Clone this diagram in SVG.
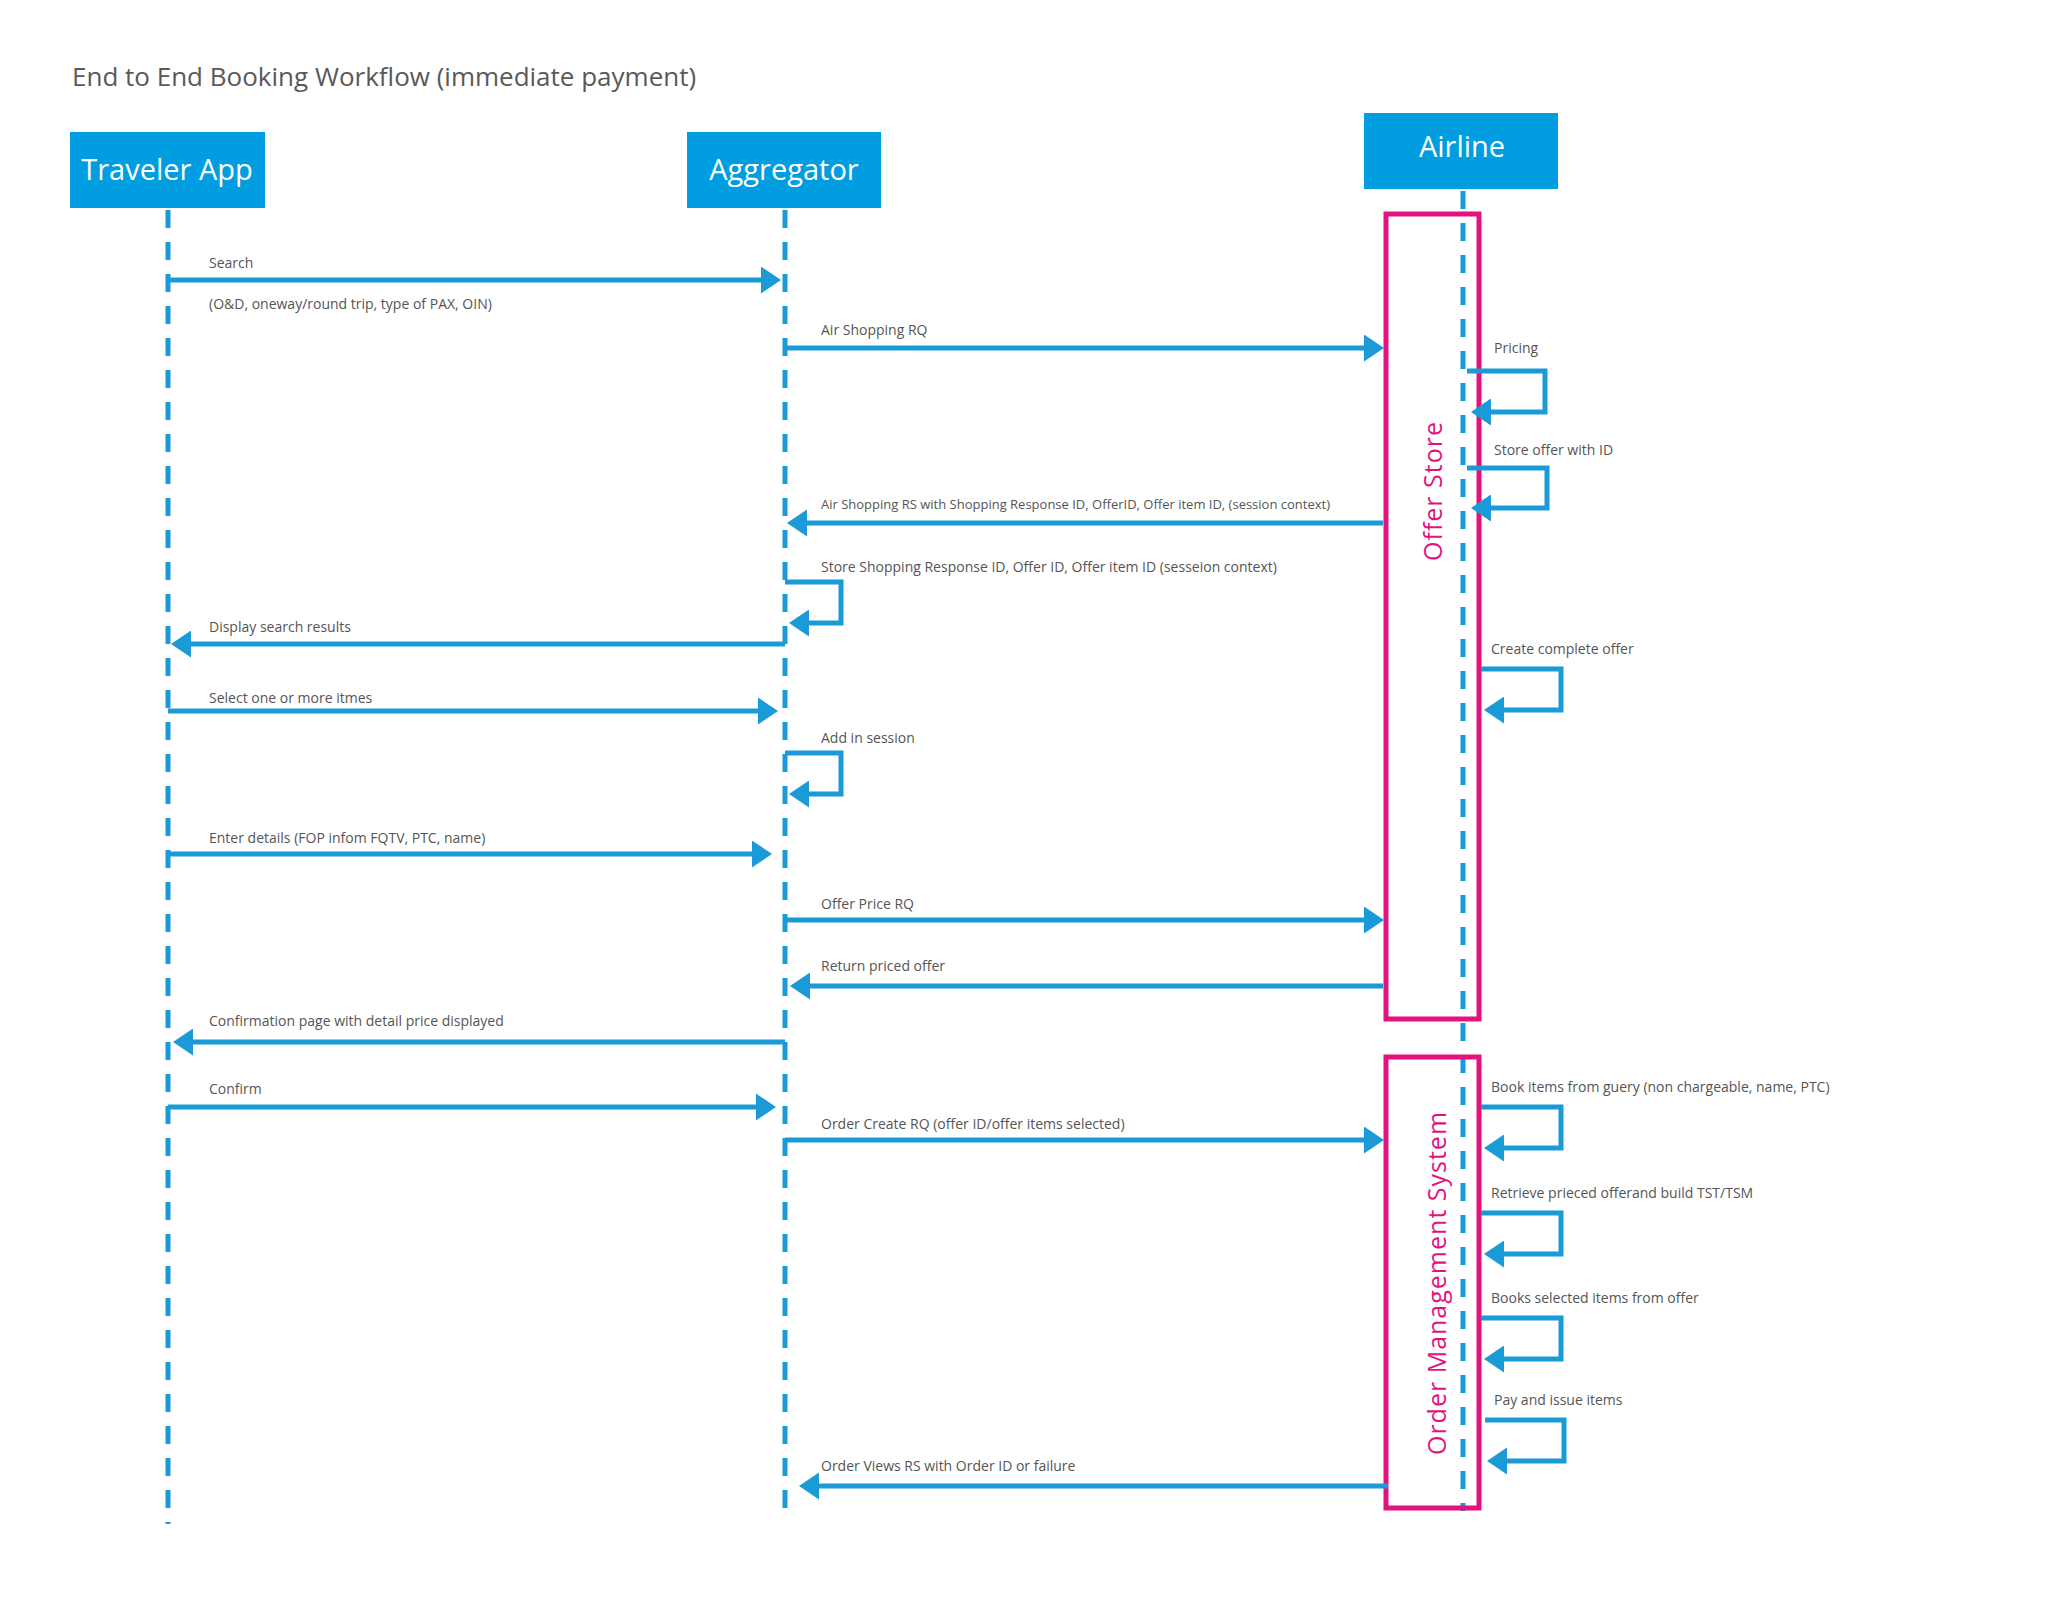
<svg xmlns="http://www.w3.org/2000/svg" width="2048" height="1616" viewBox="0 0 2048 1616">
<style>
.box{fill:#009EE0}
.bt{font-family:"Open Sans","Liberation Sans",sans-serif;font-size:29px;fill:#fff;text-anchor:middle}
.life{stroke:#1A9AD6;stroke-width:5;stroke-dasharray:18 14;fill:none}
.act{fill:none;stroke:#E2137F;stroke-width:5}
.vt{font-family:"Open Sans","Liberation Sans",sans-serif;font-size:25px;fill:#E2137F;text-anchor:middle;letter-spacing:1px}
.msg{stroke:#1A9AD6;stroke-width:5;fill:none;marker-end:url(#ah)}
.lb{font-family:"Open Sans","Liberation Sans",sans-serif;font-size:14px;fill:#555}
.sm{font-size:13px}
</style>
<defs>
<marker id="ah" viewBox="0 0 4 5.4" refX="3" refY="2.7" markerWidth="4" markerHeight="5.4" orient="auto" markerUnits="strokeWidth">
<path d="M0,0 L4,2.7 L0,5.4 Z" fill="#1A9AD6"/>
</marker>
</defs>
<rect width="2048" height="1616" fill="#fff"/>
<text x="72" y="86" font-family="'Open Sans','Liberation Sans',sans-serif" font-size="26" fill="#595959">End to End Booking Workflow (immediate payment)</text>

<g id="traveler"><rect class="box" x="70" y="132" width="195" height="76"/><text class="bt" x="167" y="180">Traveler App</text><line class="life" x1="168" y1="210" x2="168" y2="1524"/></g>
<g id="aggregator"><rect class="box" x="687" y="132" width="194" height="76"/><text class="bt" x="784" y="180">Aggregator</text><line class="life" x1="785" y1="210" x2="785" y2="1508"/></g>
<g id="airline"><rect class="box" x="1364" y="113" width="194" height="76"/><text class="bt" x="1462" y="157">Airline</text><line class="life" x1="1463" y1="191" x2="1463" y2="1511"/></g>
<g id="offerstore"><rect class="act" x="1386" y="214" width="93" height="805"/><text class="vt" transform="translate(1442,491) rotate(-90)">Offer Store</text></g>
<g id="oms"><rect class="act" x="1386" y="1057" width="93" height="451"/><text class="vt" transform="translate(1446,1283) rotate(-90)" letter-spacing="2">Order Management System</text></g>

<g id="connectors">
<path class="msg" d="M168,280 H776"/>
<path class="msg" d="M785,348 H1379"/>
<path class="msg" d="M1467,371 H1545 V412 H1476"/>
<path class="msg" d="M1467,468 H1547 V508 H1476"/>
<path class="msg" d="M1383,523 H792"/>
<path class="msg" d="M785,582 H841 V623 H794"/>
<path class="msg" d="M785,644 H176"/>
<path class="msg" d="M1481,669 H1561 V710 H1489"/>
<path class="msg" d="M168,711 H773"/>
<path class="msg" d="M785,753 H841 V794 H794"/>
<path class="msg" d="M168,854 H767"/>
<path class="msg" d="M785,920 H1379"/>
<path class="msg" d="M1383,986 H795"/>
<path class="msg" d="M785,1042 H178"/>
<path class="msg" d="M168,1107 H771"/>
<path class="msg" d="M785,1140 H1379"/>
<path class="msg" d="M1481,1107 H1561 V1148 H1489"/>
<path class="msg" d="M1481,1213 H1561 V1254 H1489"/>
<path class="msg" d="M1481,1318 H1561 V1359 H1489"/>
<path class="msg" d="M1485,1420 H1564 V1461 H1492"/>
<path class="msg" d="M1388,1486 H804"/>
</g>

<g id="labels">
<text class="lb" x="209" y="268">Search</text>
<text class="lb" x="209" y="309">(O&amp;D, oneway/round trip, type of PAX, OIN)</text>
<text class="lb" x="821" y="335">Air Shopping RQ</text>
<text class="lb" x="1494" y="353">Pricing</text>
<text class="lb" x="1494" y="455">Store offer with ID</text>
<text class="lb sm" x="821" y="509">Air Shopping RS with Shopping Response ID, OfferID, Offer item ID, (session context)</text>
<text class="lb" x="821" y="572">Store Shopping Response ID, Offer ID, Offer item ID (sesseion context)</text>
<text class="lb" x="209" y="632">Display search results</text>
<text class="lb" x="1491" y="654">Create complete offer</text>
<text class="lb" x="209" y="703">Select one or more itmes</text>
<text class="lb" x="821" y="743">Add in session</text>
<text class="lb" x="209" y="843">Enter details (FOP infom FQTV, PTC, name)</text>
<text class="lb" x="821" y="909">Offer Price RQ</text>
<text class="lb" x="821" y="971">Return priced offer</text>
<text class="lb" x="209" y="1026">Confirmation page with detail price displayed</text>
<text class="lb" x="209" y="1094">Confirm</text>
<text class="lb" x="821" y="1129">Order Create RQ (offer ID/offer items selected)</text>
<text class="lb" x="1491" y="1092">Book items from guery (non chargeable, name, PTC)</text>
<text class="lb" x="1491" y="1198">Retrieve prieced offerand build TST/TSM</text>
<text class="lb" x="1491" y="1303">Books selected items from offer</text>
<text class="lb" x="1494" y="1405">Pay and issue items</text>
<text class="lb" x="821" y="1471">Order Views RS with Order ID or failure</text>
</g>
</svg>
